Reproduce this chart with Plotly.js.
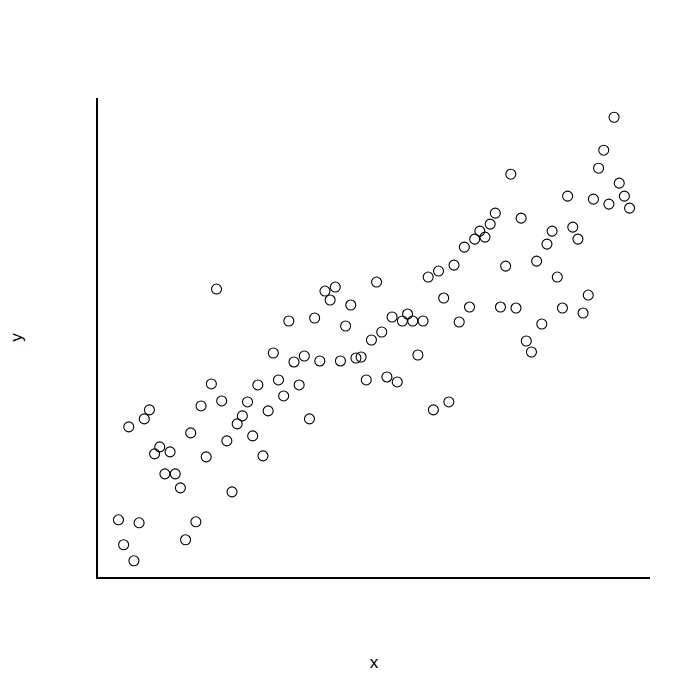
<!DOCTYPE html>
<html>
<head>
<meta charset="utf-8">
<script src="https://cdn.plot.ly/plotly-3.0.1.min.js"></script>
<style>html,body{margin:0;padding:0;background:#fff;}#chart{width:700px;height:700px;}</style>
</head>
<body>
<div id="chart"></div>
<script>
// x values: observation index
const xValues = Array.from({length: 100}, (_, i) => i + 1);
// y values (arbitrary units)
const yValues = [
  58, 33, 151, 17, 55, 159, 168, 124, 131, 104,
  126, 104, 90, 38, 145, 56, 172, 121, 194, 289,
  177, 137, 86, 154, 162, 176, 142, 193, 122, 167,
  225, 198, 182, 257, 216, 193, 222, 159, 260, 217,
  287, 278, 291, 217, 252, 273, 220, 221, 198, 238,
  296, 246, 201, 261, 196, 257, 264, 257, 223, 257,
  301, 168, 307, 280, 176, 313, 256, 331, 271, 339,
  347, 341, 354, 365, 271, 312, 404, 270, 360, 237,
  226, 317, 254, 334, 347, 301, 270, 382, 351, 339,
  265, 283, 379, 410, 428, 374, 461, 395, 382, 370
];
const xTitle = "x";
const yTitle = "y";

const trace = {
  x: xValues,
  y: yValues,
  type: "scatter",
  mode: "markers",
  marker: {symbol: "circle-open", size: 10, color: "#000000", line: {width: 1.1, color: "#000000"}},
  hoverinfo: "x+y"
};

const layout = {
  width: 700,
  height: 700,
  margin: {l: 98, r: 50, t: 98, b: 123},
  paper_bgcolor: "#ffffff",
  plot_bgcolor: "#ffffff",
  showlegend: false,
  font: {family: "Liberation Sans, Arial, sans-serif", size: 16, color: "#000000"},
  xaxis: {
    range: [-2.96, 103.96],
    showgrid: false, zeroline: false, showticklabels: false, ticks: "",
    showline: true, linecolor: "#000000", linewidth: 2, mirror: false,
    title: {text: xTitle, standoff: 78, font: {size: 17}},
    automargin: false
  },
  yaxis: {
    range: [0.74, 480.26],
    showgrid: false, zeroline: false, showticklabels: false, ticks: "",
    showline: true, linecolor: "#000000", linewidth: 2, mirror: false,
    title: {text: yTitle, standoff: 69, font: {size: 17}},
    automargin: false
  }
};

Plotly.newPlot("chart", [trace], layout, {displayModeBar: false, staticPlot: true});
</script>
</body>
</html>
